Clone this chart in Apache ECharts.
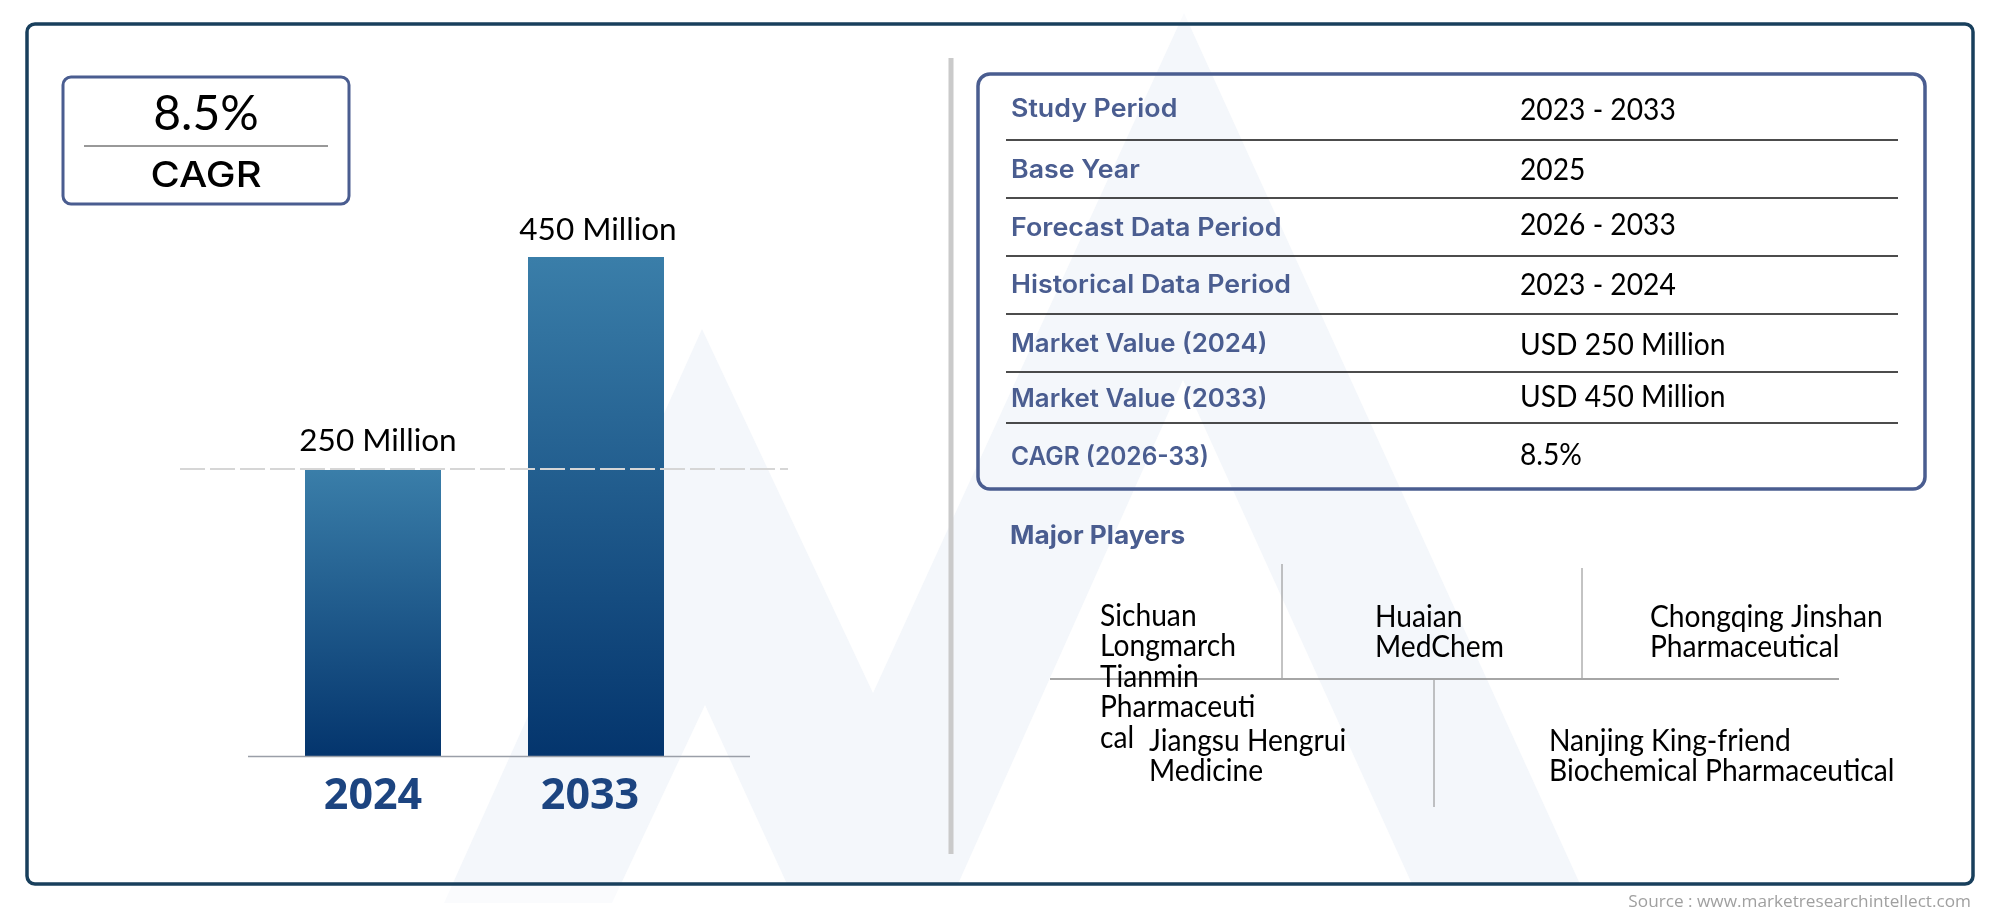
<!DOCTYPE html>
<html><head><meta charset="utf-8">
<style>html,body{margin:0;padding:0;background:#fff}#c{width:2000px;height:917px}</style>
<script src="https://cdn.jsdelivr.net/npm/echarts@6/dist/echarts.min.js"></script>
</head><body><div id="c"></div>
<script>
// ---- data ----
const years = ['2024', '2033'];
const marketValues = [250, 450];
const valueLabels = ['250 Million', '450 Million'];
const cagrValue = '8.5%';
const cagrLabel = 'CAGR';
const tableLabels = ['Study Period', 'Base Year', 'Forecast Data Period', 'Historical Data Period', 'Market Value (2024)', 'Market Value (2033)', 'CAGR (2026-33)'];
const tableValues = ['2023 - 2033', '2025', '2026 - 2033', '2023 - 2024', 'USD 250 Million', 'USD 450 Million', '8.5%'];
const playersTitle = 'Major Players';
const players = ['Sichuan\nLongmarch\nTianmin\nPharmaceuti\ncal', 'Huaian\nMedChem', 'Chongqing Jinshan\nPharmaceutical', 'Jiangsu Hengrui\nMedicine', 'Nanjing King-friend\nBiochemical Pharmaceutical'];
const sourceText = 'Source : www.marketresearchintellect.com';

// ---- layout ----
const bodyFont = 'Lato';
const headFont = 'Inter';
const slate = '#4a5d90';
const labelYs = [109.5, 170, 228, 285.5, 344, 399, 457];
const labelScales = [1.07, 1.07, 1.075, 1.07, 1.034, 1.034, 0.98];
const valueYs = [110.5, 170.5, 225.5, 285.5, 345.5, 397.5, 455.5];
const ruleYs = [140, 198, 256, 314, 372, 423];
const playerPos = [[1100, 601], [1375, 602], [1650, 602], [1149, 726], [1549, 726]];
const valueOffsets = [[5, -29], [2, -27]];

const txt = (text, x, y, font, size, weight, fill, extra, sx) => ({
  type: 'text', z: 5, x, y, scaleX: sx || 1,
  style: Object.assign({ text, fontFamily: font, fontSize: size, fontWeight: weight, fill, align: 'left', verticalAlign: 'middle' }, extra || {})
});
const line = (x1, y1, x2, y2, stroke, w, dash) => ({
  type: 'line', z: 5, shape: { x1, y1, x2, y2 }, style: { stroke, lineWidth: w, lineDash: dash || null }
});
const box = (x, y, w, h, r, stroke, lw) => ({
  type: 'rect', z: 4, shape: { x, y, width: w, height: h, r }, style: { fill: 'transparent', stroke, lineWidth: lw }
});

const graphics = [
  // watermark logo
  { type: 'polygon', z: -2, shape: { points: [[702,329],[873,693],[1184,13],[1580,884],[1412,884],[1183,380],[958,884],[787,884],[705,705],[612,903],[444,903]] }, style: { fill: '#f4f7fb' } },
  { type: 'rect', z: -1, shape: { x: 0, y: 885, width: 2000, height: 32 }, style: { fill: 'rgba(255,255,255,0.55)' } },
  { type: 'rect', z: -1, shape: { x: 0, y: 0, width: 2000, height: 23 }, style: { fill: 'rgba(255,255,255,0.55)' } },
  box(27, 24, 1946, 860, 8, '#183f5c', 3.5),
  box(63, 77, 286, 127, 8, slate, 3),
  line(84, 146, 328, 146, '#333', 1),
  txt(cagrValue, 206, 115, bodyFont, 48, 400, '#000', { align: 'center' }),
  txt(cagrLabel, 206, 176.5, headFont, 36, 500, '#000', { align: 'center' }, 1.11),
  line(951, 58, 951, 854, '#cacaca', 5),
  line(248, 756.5, 750, 756.5, '#9a9fa8', 1.5),
  Object.assign(line(180, 469, 788, 469, '#d6d6d6', 2, [25, 5]), { z: 10 }),
  box(978, 74, 947, 415, 12, slate, 3.5)
];
ruleYs.forEach(y => graphics.push(line(1006, y, 1898, y, '#111', 1.3)));
tableLabels.forEach((t, i) => graphics.push(txt(t, 1011, labelYs[i], headFont, 25, 600, slate, null, labelScales[i])));
tableValues.forEach((t, i) => graphics.push(txt(t, 1520, valueYs[i], bodyFont, 30, 400, '#000', null, 0.94)));
graphics.push(txt(playersTitle, 1010, 536, headFont, 25, 700, slate, null, 1.05));
graphics.push(line(1050, 679, 1839, 679, '#888', 1.3));
graphics.push(line(1282, 564, 1282, 678, '#888', 1));
graphics.push(line(1582, 568, 1582, 678, '#888', 1));
graphics.push(line(1434, 680, 1434, 807, '#888', 1));
players.forEach((t, i) => {
  const [x, y] = playerPos[i];
  graphics.push(txt(t, x, y, bodyFont, 30, 400, '#000', { verticalAlign: 'top', lineHeight: 30.5 }, 0.94));
});
graphics.push(txt(sourceText, 1971, 902, 'Open Sans', 17.2, 400, '#a0a0a0', { align: 'right' }));

const chart = echarts.init(document.getElementById('c'), null, { renderer: 'canvas' });
const axisFloor = -18.4;
chart.setOption({
  animation: false,
  backgroundColor: '#fff',
  grid: { left: 261.5, width: 446, top: 257, height: 499 },
  xAxis: {
    type: 'category',
    data: [years[0], { value: years[1], textStyle: { padding: [0, 12, 0, 0] } }],
    axisLine: { show: false }, axisTick: { show: false },
    axisLabel: { fontFamily: 'Open Sans', fontWeight: 700, fontSize: 43, color: '#1c4480', margin: 19 }
  },
  yAxis: { type: 'value', min: axisFloor, max: 450, show: false, splitLine: { show: false } },
  graphic: graphics,
  series: [{
    type: 'custom',
    name: 'Market value',
    data: years.map((y, i) => [i, marketValues[i]]),
    encode: { x: 0, y: 1 },
    z: 3,
    renderItem(params, api) {
      const i = api.value(0);
      const top = api.coord([i, api.value(1)]);
      const base = api.coord([i, axisFloor]);
      const w = 136;
      return {
        type: 'rect',
        shape: { x: top[0] - w / 2, y: top[1], width: w, height: base[1] - top[1] },
        style: { fill: new echarts.graphic.LinearGradient(0, 0, 0, 1, [{ offset: 0, color: '#3a7ea9' }, { offset: 1, color: '#04356d' }]) },
        textContent: {
          style: { text: valueLabels[i], fontFamily: bodyFont, fontSize: 31.5, fill: '#000', align: 'center', verticalAlign: 'middle' }
        },
        textConfig: { position: [w / 2 + valueOffsets[i][0], valueOffsets[i][1]], inside: false }
      };
    }
  }]
});
</script></body></html>
